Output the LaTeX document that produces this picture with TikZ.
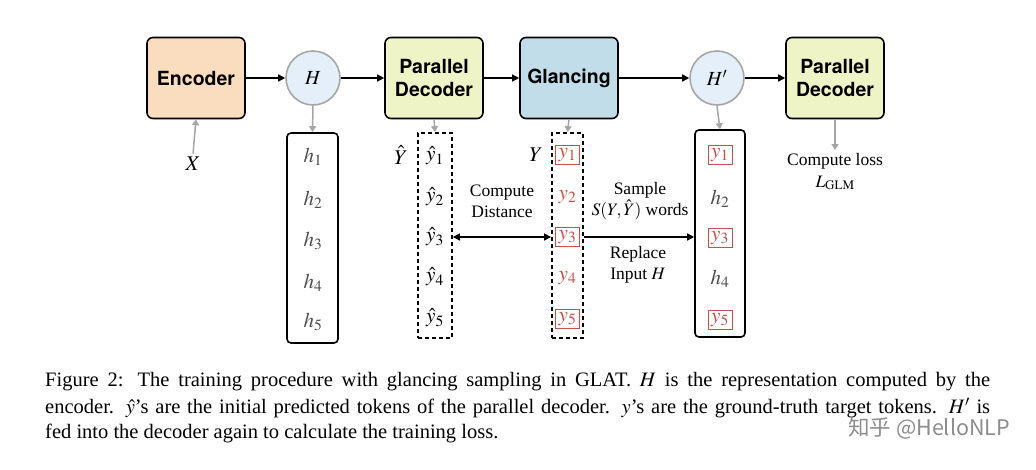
\documentclass[tikz,border=0pt]{standalone}
\usepackage{mathptmx}
\usepackage{fontspec}
\setmainfont{Liberation Serif}
\newfontfamily\hv{TeX Gyre Heros}
\newfontfamily\cjk{Noto Sans CJK SC}
\usetikzlibrary{arrows.meta}
\definecolor{enc}{HTML}{FADDBF}
\definecolor{dec}{HTML}{EFF4C6}
\definecolor{gla}{HTML}{C2DDEA}
\definecolor{cir}{HTML}{E4EFFA}
\definecolor{rd}{HTML}{C8504A}
\begin{document}
\begin{tikzpicture}[x=1pt,y=-1pt,
 blk/.style={draw,line width=1.6pt,rounded corners=6pt,minimum width=98pt,minimum height=81pt,font=\hv\bfseries\fontsize{19.5}{23}\selectfont,align=center},
 cir/.style={circle,draw=gray!70,line width=1.6pt,fill=cir,minimum size=54pt,inner sep=0pt,font=\fontsize{20}{22}\selectfont},
 arr/.style={-{Triangle[length=7pt,width=7pt]},line width=1.5pt},
 garr/.style={-{Triangle[length=6pt,width=7pt]},line width=1.5pt,draw=gray!70},
 col/.style={draw,line width=1.6pt,rounded corners=4pt,inner sep=0pt},
 dcol/.style={draw,line width=1.8pt,dash pattern=on 4pt off 3pt,inner sep=0pt},
 it/.style={font=\fontsize{21}{22}\selectfont},
 ry/.style={draw=rd,line width=1pt,text=rd,inner xsep=1.5pt,inner ysep=2.5pt,minimum width=24pt,font=\fontsize{21}{22}\selectfont},
 ryn/.style={text=rd,inner sep=1pt,font=\fontsize{21}{22}\selectfont},
 lab/.style={font=\fontsize{17.5}{21}\selectfont,align=center}]
\useasboundingbox (0,0) rectangle (1036,469);
\node[blk,fill=enc] (enc) at (196,78) {Encoder};
\node[cir] (H) at (313,78) {$H$};
\node[blk,fill=dec] (pd1) at (434,78) {Parallel\\Decoder};
\node[blk,fill=gla] (gl) at (569,78) {Glancing};
\node[cir] (Hp) at (717,78) {$H'$};
\node[blk,fill=dec] (pd2) at (835,78) {Parallel\\Decoder};
\draw[arr] (enc) -- (H);
\draw[arr] (H) -- (pd1);
\draw[arr] (pd1) -- (gl);
\draw[arr] (gl) -- (Hp);
\draw[arr] (Hp) -- (pd2);
\node[it] (X) at (193,164) {$X$};
\draw[garr] (X.north) -- (enc.south);
% h column
\node[col,minimum width=51pt,minimum height=210pt] (hc) at (312.5,238) {};
\foreach \i/\y in {1/157,2/200,3/241,4/283,5/322}
  \node[it,text=black!70] (h\i) at (313,\y) {$h_{\i}$};
\draw[garr] (H.south) -- (hc.north);
% yhat column
\node[dcol,minimum width=34pt,minimum height=205pt] (yh) at (435,235.5) {};
\foreach \i/\y in {1/156,2/197,3/237,4/277,5/318}
  \node[it] (yh\i) at (435,\y) {$\hat{y}_{\i}$};
\node[it] (Yh) at (401,155) {$\hat{Y}$};
\draw[garr] (pd1.south) -- (yh.north);
% y column
\node[dcol,minimum width=31pt,minimum height=205pt] (yc) at (567.5,235.5) {};
\node[it] (Yl) at (536,155) {$Y$};
\node[ry] (y1) at (567.5,155) {$y_1$};
\node[ryn] (y2) at (567.5,197) {$y_2$};
\node[ry] (y3) at (567.5,237) {$y_3$};
\node[ryn] (y4) at (567.5,278) {$y_4$};
\node[ry] (y5) at (567.5,319) {$y_5$};
\draw[garr] (gl.south) -- (yc.north);
% H' column
\node[col,minimum width=50pt,minimum height=207pt] (hp) at (720,233.5) {};
\node[ry] (p1) at (720,155) {$y_1$};
\node[it,text=black!70] (p2) at (720,199) {$h_2$};
\node[ry] (p3) at (720,238) {$y_3$};
\node[it,text=black!70] (p4) at (720,279) {$h_4$};
\node[ry] (p5) at (720,320) {$y_5$};
\draw[garr] (Hp.south) -- (hp.north);
% arrows
\draw[{Triangle[length=7pt,width=7pt]}-{Triangle[length=7pt,width=7pt]},line width=1.5pt] (yh.east |- yh3) -- (yc.west |- y3);
\node[lab] (cd) at (502,201) {Compute\\Distance};
\draw[arr] (yc.east |- y3) -- (hp.west |- y3);
\node[lab] (sm) at (640,201) {Sample\\$S(Y,\hat{Y})$ words};
\node[lab] (rp) at (638,265) {Replace\\Input $H$};
\coordinate (cl) at (835,150);
\draw[garr] (pd2.south) -- (cl);
\node[lab,font=\fontsize{17.5}{22}\selectfont,anchor=north,inner sep=1pt] (loss) at (835,152) {Compute loss\\$L_{\mathrm{GLM}}$};
% caption
\node[anchor=west,inner sep=0pt,font=\fontsize{20.5}{24}\selectfont] (c1) at (45,382) {\makebox[945pt][s]{Figure 2: The training procedure with glancing sampling in GLAT. $H$ is the representation computed by the}};
\node[anchor=west,inner sep=0pt,font=\fontsize{20.5}{24}\selectfont] (c2) at (45,408) {\makebox[945pt][s]{encoder. $\hat{y}$'s are the initial predicted tokens of the parallel decoder. $y$'s are the ground-truth target tokens. $H'$ is}};
\node[anchor=west,inner sep=0pt,font=\fontsize{20.5}{24}\selectfont] (c3) at (45,433) {fed into the decoder again to calculate the training loss.};
\node[anchor=west,inner sep=0pt,text=black!45,font=\cjk\fontsize{21.5}{24}\selectfont] (wm) at (848,428) {知乎 @HelloNLP};
\end{tikzpicture}
\end{document}
